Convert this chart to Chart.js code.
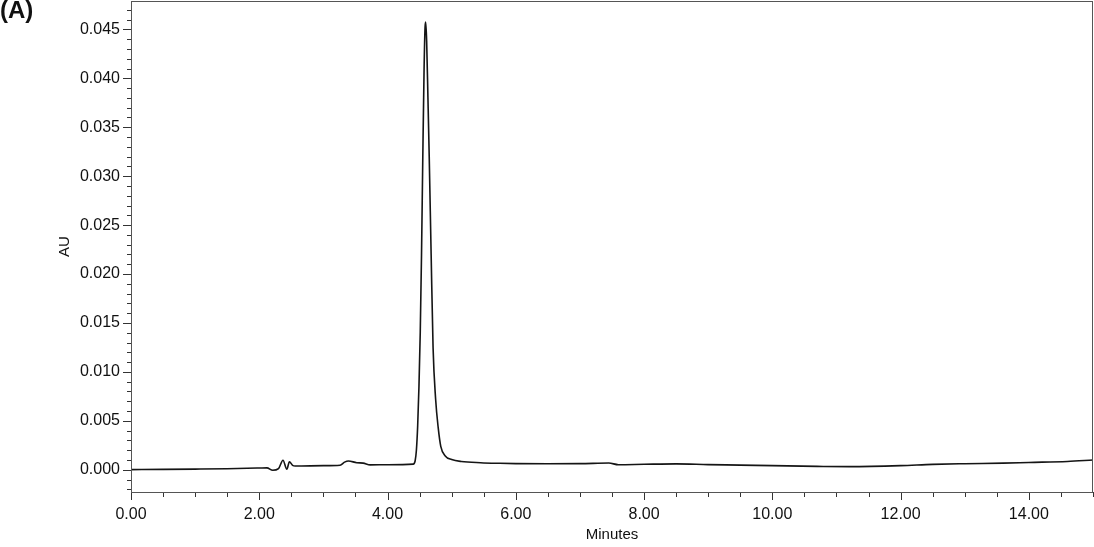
<!DOCTYPE html>
<html>
<head>
<meta charset="utf-8">
<script src="https://cdn.jsdelivr.net/npm/chart.js@4"></script>
<style>
  html, body { margin: 0; padding: 0; background: #fff; }
  #wrap { position: relative; width: 1094px; height: 547px; }
  #panel-label {
    position: absolute; left: 0; top: -4px;
    font: bold 24px "Liberation Sans", Arial, sans-serif; color: #111;
  }
</style>
</head>
<body>
<div id="wrap">
  <canvas id="chart"></canvas>
  <div id="panel-label">(A)</div>
</div>
<script>
// Chromatogram (A) - absorbance vs retention time
const times = [
  0.00, 0.50, 1.00, 1.50, 2.00, 2.12, 2.21, 2.30, 2.37, 2.43, 2.47, 2.52, 2.56,
  3.00, 3.26, 3.33, 3.39, 3.52, 3.62, 3.73, 4.00, 4.40,
  4.43, 4.45, 4.47, 4.49, 4.51, 4.53, 4.55, 4.57, 4.585, 4.595, 4.61, 4.63, 4.65,
  4.68, 4.71, 4.75, 4.79, 4.83, 4.90, 5.00, 5.15, 5.45, 5.75,
  6.00, 6.50, 7.00, 7.45, 7.60, 8.00, 8.50, 9.00, 9.50, 10.00, 10.70, 11.20,
  12.00, 12.50, 13.00, 13.60, 14.00, 14.60, 15.00
];
const absorbance = [
  0.00002, 0.00004, 0.00007, 0.00011, 0.00018, 0.00020, -0.00005, 0.00012, 0.00098, 0.00005, 0.00082, 0.00045, 0.00038,
  0.00042, 0.00047, 0.00078, 0.00090, 0.00072, 0.00068, 0.00050, 0.00052, 0.00058,
  0.00090, 0.00200, 0.00450, 0.00850, 0.01400, 0.02200, 0.03200, 0.04100, 0.04520, 0.04575, 0.04380, 0.03800, 0.03200,
  0.02200, 0.01250, 0.00720, 0.00430, 0.00240, 0.00140, 0.00105, 0.00085, 0.00072, 0.00066,
  0.00063, 0.00062, 0.00063, 0.00069, 0.00052, 0.00056, 0.00060, 0.00053, 0.00048, 0.00042, 0.00035, 0.00032,
  0.00042, 0.00055, 0.00062, 0.00068, 0.00075, 0.00085, 0.00100
];
const xTickValues = [0, 2, 4, 6, 8, 10, 12, 14];
const yTickValues = [0.000, 0.005, 0.010, 0.015, 0.020, 0.025, 0.030, 0.035, 0.040, 0.045];

const FONT = '"Liberation Sans", Arial, sans-serif';
const AXIS_COLOR = '#333';

// minor + major tick marks, and the box frame
const tickMarks = {
  id: 'tickMarks',
  afterDraw(chart) {
    const ctx = chart.ctx;
    const { left, right, top, bottom } = chart.chartArea;
    const xs = chart.scales.x, ys = chart.scales.y;
    ctx.save();
    ctx.strokeStyle = AXIS_COLOR;
    ctx.lineWidth = 1;
    ctx.beginPath();
    // y ticks every 0.001
    for (let i = -2; i <= 47; i++) {
      const py = Math.round(ys.getPixelForValue(i / 1000)) + 0.5;
      if (py < top || py > bottom) continue;
      const len = i % 5 === 0 ? 8 : 4;
      ctx.moveTo(left - len, py);
      ctx.lineTo(left, py);
    }
    // x ticks every 0.5 min
    for (let i = 0; i <= 30; i++) {
      const px = Math.round(xs.getPixelForValue(i / 2)) + 0.5;
      const len = i % 4 === 0 ? 8 : 5;
      ctx.moveTo(px, bottom);
      ctx.lineTo(px, bottom + len);
    }
    ctx.stroke();
    ctx.strokeStyle = '#555';
    ctx.strokeRect(left + 0.5, top + 0.5, right - left - 1, bottom - top);
    ctx.restore();
  }
};

new Chart(document.getElementById('chart'), {
  type: 'line',
  data: {
    datasets: [{
      data: times.map((t, i) => ({ x: t, y: absorbance[i] })),
      borderColor: '#151515',
      borderWidth: 1.6,
      pointRadius: 0,
      fill: false,
      cubicInterpolationMode: 'monotone'
    }]
  },
  options: {
    responsive: true,
    maintainAspectRatio: false,
    animation: false,
    layout: { padding: { top: 1, right: 1, left: 0, bottom: 0 } },
    plugins: { legend: { display: false }, tooltip: { enabled: false } },
    scales: {
      x: {
        type: 'linear',
        min: 0,
        max: 15,
        afterBuildTicks: s => { s.ticks = xTickValues.map(v => ({ value: v })); },
        afterFit: s => { s.height = 55; s.paddingRight = 0; s.paddingLeft = 0; },
        grid: { display: false, drawTicks: false },
        border: { display: true, color: AXIS_COLOR, width: 1 },
        ticks: {
          padding: 13,
          maxRotation: 0,
          color: '#111',
          font: { family: FONT, size: 16 },
          callback: v => v.toFixed(2)
        },
        title: {
          display: true,
          text: 'Minutes',
          color: '#111',
          font: { family: FONT, size: 15 },
          padding: { top: 0, bottom: 3 }
        }
      },
      y: {
        min: -0.00227,
        max: 0.0479,
        afterBuildTicks: s => { s.ticks = yTickValues.map(v => ({ value: v })); },
        afterFit: s => { s.width = 131; s.paddingTop = 0; s.paddingBottom = 0; },
        grid: { display: false, drawTicks: false },
        border: { display: true, color: AXIS_COLOR, width: 1 },
        ticks: {
          padding: 11,
          color: '#111',
          font: { family: FONT, size: 16 },
          callback: v => v.toFixed(3)
        },
        title: {
          display: true,
          text: 'AU',
          color: '#111',
          font: { family: FONT, size: 15 },
          padding: { top: 56, bottom: 0 }
        }
      }
    }
  },
  plugins: [tickMarks]
});
</script>
</body>
</html>
